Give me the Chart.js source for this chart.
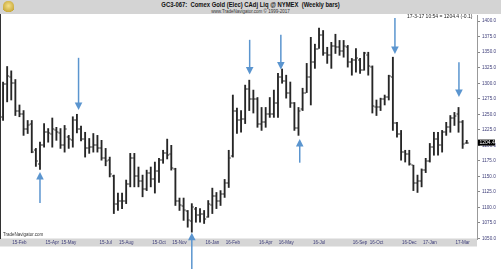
<!DOCTYPE html>
<html>
<head>
<meta charset="utf-8">
<script src="https://cdn.jsdelivr.net/npm/chart.js@4.4.1/dist/chart.umd.min.js"></script>
<style>
body{margin:0;width:501px;height:269px;overflow:hidden;background:#fff;position:relative;font-family:"Liberation Sans",Arial,sans-serif}
#c{position:absolute;left:0;top:0}
#head{position:absolute;left:0;top:0;width:501px;height:14px;background:#d4d4d4;z-index:2}
#logo{position:absolute;left:3px;top:1px;width:11px;height:12px;border-radius:5px 5px 3px 3px;background:radial-gradient(circle at 50% 40%,#f4e08a,#c9a93a 70%,#d4d4d4 72%)}
#title{position:absolute;left:0;top:1px;width:501px;text-align:center;font-weight:bold;font-size:7px;line-height:8px;color:#111;transform:scaleX(0.84);transform-origin:251px 0}
#sub{position:absolute;left:0;top:9px;width:501px;text-align:center;font-size:4.5px;line-height:5px;color:#333}
#info{position:absolute;left:407px;top:13px;font-size:5px;line-height:6px;color:#222;z-index:3}
#tn{position:absolute;left:3px;top:232px;font-size:4.5px;line-height:5px;color:#333;z-index:3}
#edge{position:absolute;left:0;top:14px;width:1px;height:225px;background:#333;z-index:3}
</style>
</head>
<body>
<canvas id="c" width="501" height="269"></canvas>
<div id="head"><div id="logo"></div><div id="title">GC3-067:&nbsp; Comex Gold (Elec) CAdj Liq @ NYMEX&nbsp; (Weekly bars)</div><div id="sub">www.TradeNavigator.com © 1999-2017</div></div>
<div id="info">17-3-17 10:54 = 1204.4 (-0.1)</div>
<div id="tn">TradeNavigator.com</div>
<div id="edge"></div>
<script>
// weekly bars, Jan 2015 - Mar 2017
var highs = [1302,1327,1320,1306,1265,1256,1240,1240,1195,1205,
  1235,1227,1244,1229,1227,1232,1216,1246,1250,1231,
  1221,1211,1219,1216,1208,1195,1181,1152,1123,1123,
  1144,1187,1187,1165,1152,1160,1165,1173,1179,1192,
  1210,1200,1163,1115,1115,1095,1106,1100,1098,1095,
  1111,1131,1124,1127,1145,1192,1281,1260,1256,1297,
  1305,1289,1277,1261,1261,1277,1289,1316,1323,1313,
  1302,1269,1261,1292,1332,1374,1363,1389,1385,1358,
  1366,1379,1369,1369,1361,1340,1356,1340,1350,1350,
  1328,1273,1276,1281,1313,1342,1237,1224,1192,1192,
  1168,1152,1162,1179,1203,1221,1221,1224,1237,1248,
  1253,1261,1240,1208];
var lows = [1240,1270,1273,1248,1246,1216,1219,1188,1166,1161,
  1197,1205,1197,1208,1195,1189,1195,1197,1220,1207,
  1181,1187,1189,1189,1176,1167,1149,1090,1095,1098,
  1106,1133,1133,1133,1117,1127,1133,1123,1140,1171,
  1178,1160,1103,1095,1079,1068,1060,1076,1076,1074,
  1084,1090,1098,1103,1116,1132,1181,1219,1221,1235,
  1256,1252,1229,1224,1229,1245,1245,1245,1300,1276,
  1261,1224,1216,1256,1285,1265,1324,1356,1345,1332,
  1324,1348,1345,1342,1326,1313,1318,1316,1321,1313,
  1252,1248,1256,1265,1273,1224,1213,1176,1173,1168,
  1127,1124,1133,1156,1173,1184,1184,1189,1216,1221,
  1232,1221,1195,1203];
var opens = [1245,1298,1310,1300,1256,1250,1226,1234,1192,1170,
  1200,1222,1218,1225,1220,1200,1214,1208,1240,1226,
  1210,1196,1198,1200,1196,1180,1176,1150,1106,1110,
  1110,1138,1180,1150,1142,1130,1156,1145,1158,1176,
  1188,1186,1162,1110,1102,1094,1078,1098,1088,1090,
  1084,1104,1118,1110,1122,1140,1182,1256,1240,1242,
  1290,1274,1274,1234,1238,1250,1250,1268,1310,1304,
  1285,1268,1228,1258,1285,1310,1335,1356,1378,1348,
  1345,1360,1358,1352,1358,1335,1338,1338,1322,1346,
  1326,1262,1262,1275,1278,1310,1236,1218,1190,1186,
  1168,1140,1142,1160,1175,1198,1210,1200,1222,1230,
  1244,1250,1238,1203];
var closes = [1298,1312,1300,1255,1250,1226,1232,1190,1174,1200,
  1222,1220,1226,1222,1200,1226,1210,1240,1226,1210,
  1196,1198,1200,1195,1180,1175,1153,1106,1110,1110,
  1138,1180,1150,1142,1130,1156,1145,1158,1176,1188,
  1185,1163,1110,1103,1096,1080,1100,1088,1090,1082,
  1105,1118,1110,1122,1140,1180,1256,1240,1242,1290,
  1275,1275,1234,1238,1250,1250,1268,1310,1304,1285,
  1268,1228,1255,1285,1310,1335,1355,1378,1348,1345,
  1360,1358,1352,1360,1335,1338,1340,1322,1348,1328,
  1264,1262,1275,1278,1312,1236,1218,1190,1186,1170,
  1140,1142,1160,1175,1198,1210,1200,1222,1230,1244,
  1248,1238,1202,1204.4];

var xTickIdx = [4,12,16,25,30,38,43,51,56,64,69,77,87,91,99,104,112];
var xTickText = ['15-Feb','15-Apr','15-May','15-Jul','15-Aug','15-Oct','15-Nov','16-Jan','16-Feb',
  '16-Apr','16-May','16-Jul','16-Sep','16-Oct','16-Dec','17-Jan','17-Mar'];
var yTicks = [1050,1075,1100,1125,1150,1175,1200,1225,1250,1275,1300,1325,1350,1375,1400];

// arrows: bar position, tail price, tip price
var arrowBar = [9, 18.4, 46, 60.1, 67.7, 72.3, 95.5, 111.1];
var arrowFrom = [1107, 1341, 1000, 1370, 1378, 1172, 1405, 1334];
var arrowTo = [1157, 1257, 1059, 1314, 1322, 1210, 1347, 1278];

var slots = 116;
var weeks = [];
for (var i = 0; i < slots; i++) {
  var d = new Date(2015, 0, 12 + 7 * i);
  weeks.push(d.getFullYear() + '-' + (d.getMonth() + 1) + '-' + d.getDate());
}

var fam = '"Liberation Sans",Arial,sans-serif';

var ohlcPlugin = {
  id: 'ohlc',
  beforeDraw: function(chart) {
    var ctx = chart.ctx, a = chart.chartArea;
    ctx.save();
    ctx.fillStyle = '#d6d6d6';
    ctx.fillRect(0, a.bottom - 0.5, a.right, 8);
    ctx.restore();
  },
  afterDatasetsDraw: function(chart) {
    var ctx = chart.ctx, xs = chart.scales.x, ys = chart.scales.y;
    ctx.save();
    ctx.fillStyle = '#262626';
    for (var i = 0; i < highs.length; i++) {
      var x = xs.getPixelForValue(i);
      ctx.fillRect(x - 2, Math.round(ys.getPixelForValue(opens[i])) - 0.5, 1.4, 1);
      ctx.fillRect(x + 0.6, Math.round(ys.getPixelForValue(closes[i])) - 0.5, 1.4, 1);
    }
    ctx.restore();
  },
  afterDraw: function(chart) {
    var ctx = chart.ctx, xs = chart.scales.x, ys = chart.scales.y;
    ctx.save();
    ctx.strokeStyle = ctx.fillStyle = '#5b95cf';
    ctx.lineWidth = 1.5;
    for (var k = 0; k < arrowBar.length; k++) {
      var x = xs.getPixelForValue(arrowBar[k]);
      var y1 = ys.getPixelForValue(arrowFrom[k]), y2 = ys.getPixelForValue(arrowTo[k]);
      var dir = y2 > y1 ? 1 : -1;
      ctx.beginPath(); ctx.moveTo(x, y1); ctx.lineTo(x, y2 - dir * 6); ctx.stroke();
      ctx.beginPath(); ctx.moveTo(x, y2); ctx.lineTo(x - 3.8, y2 - dir * 7.5); ctx.lineTo(x + 3.8, y2 - dir * 7.5);
      ctx.closePath(); ctx.fill();
    }
    // last price tag
    var last = closes[closes.length - 1];
    var yl = ys.getPixelForValue(last);
    ctx.fillStyle = '#000';
    ctx.fillRect(chart.chartArea.right + 1, yl - 3, 17, 6);
    ctx.fillStyle = '#fff';
    ctx.font = '5px ' + fam;
    ctx.textBaseline = 'middle';
    ctx.fillText(last.toFixed(1), chart.chartArea.right + 2.5, yl + 0.3);
    ctx.restore();
  }
};

new Chart(document.getElementById('c'), {
  type: 'bar',
  data: {
    labels: weeks,
    datasets: [{
      data: highs.map(function(h, i) { return [lows[i], h]; }),
      backgroundColor: '#262626',
      barThickness: 1.2,
      borderWidth: 0
    }]
  },
  options: {
    responsive: false,
    animation: false,
    layout: { padding: { top: 15, left: 1, right: 0, bottom: 0 } },
    plugins: { legend: { display: false }, tooltip: { enabled: false } },
    scales: {
      x: {
        offset: true,
        grid: { display: false, drawTicks: false },
        border: { display: false },
        ticks: {
          autoSkip: false, maxRotation: 0, minRotation: 0, padding: 1,
          color: '#3c3c78', font: { size: 4.5, family: fam },
          callback: function(v, i) { var k = xTickIdx.indexOf(i); return k < 0 ? null : xTickText[k]; }
        },
        afterFit: function(s) { s.height = 30; }
      },
      y: {
        position: 'right',
        min: 1049, max: 1410,
        afterBuildTicks: function(s) { s.ticks = yTicks.map(function(v) { return { value: v }; }); },
        grid: { drawOnChartArea: false, tickLength: 3, color: '#888' },
        border: { color: '#999' },
        ticks: {
          padding: 2, color: '#3c3c78', font: { size: 4.6, family: fam },
          callback: function(v) { return v.toFixed(1); }
        },
        afterFit: function(s) { s.width = 24; }
      }
    }
  },
  plugins: [ohlcPlugin]
});
</script>
</body>
</html>
